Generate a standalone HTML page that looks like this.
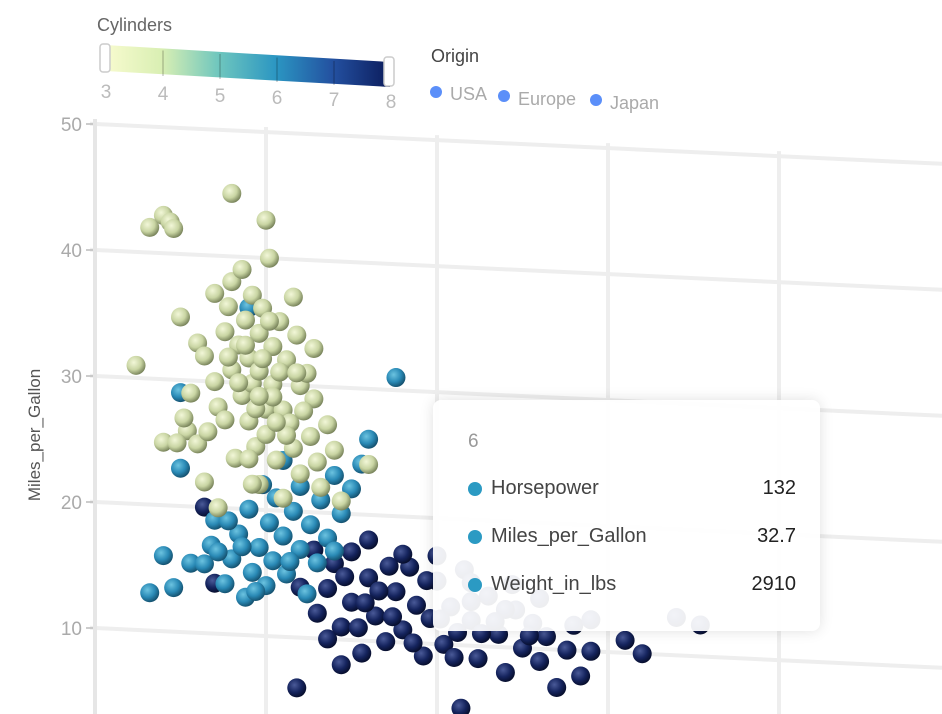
<!DOCTYPE html>
<html><head><meta charset="utf-8"><style>
body{margin:0;background:#fff;font-family:"Liberation Sans",sans-serif}
#wrap{position:relative;width:942px;height:714px;overflow:hidden}
#tip{position:absolute;left:433px;top:400px;width:387px;height:231px;background:rgba(255,255,255,0.93);border-radius:8px;box-shadow:0 0 14px rgba(0,0,0,0.12);color:#444;font-size:20px}
.row{position:absolute;left:35px;right:24px;height:24px}
.row .d{position:absolute;left:0;top:5px;width:14px;height:14px;border-radius:50%;background:#2b9ac3}
.row .l{position:absolute;left:23px;top:0}
.row .v{position:absolute;right:0;top:0;color:#222}
</style></head><body>
<div id="wrap">
<svg id="svg" width="942" height="714">
 <defs id="defs">
  <linearGradient id="vm" x1="0" x2="1"><stop offset="0" stop-color="#f8fbcf"/><stop offset="0.2" stop-color="#d9efb3"/><stop offset="0.4" stop-color="#6ec6be"/><stop offset="0.6" stop-color="#2b96c2"/><stop offset="0.8" stop-color="#2350a0"/><stop offset="1" stop-color="#0c1c5c"/></linearGradient>
 </defs>
 <g id="grid"></g>
 <g id="pts"></g>
 <g id="vmap">
  <text x="97" y="31" font-size="18" fill="#666">Cylinders</text>
  <polygon points="105,45 390,62 390,87 105,71" fill="url(#vm)"/>
  <rect x="100" y="44" width="10" height="28" rx="3" fill="#fff" stroke="#ccc" stroke-width="1.5"/>
  <rect x="384" y="57" width="10" height="29" rx="3" fill="#fff" stroke="#ccc" stroke-width="1.5"/>
  <g id="vmlabels" font-size="19" fill="#bbb"></g>
 </g>
 <g>
  <text x="431" y="62" font-size="18" fill="#444">Origin</text>
  <circle cx="436" cy="92" r="6" fill="#5b8ff9"/>
  <text x="450" y="100" font-size="18" fill="#aaa">USA</text>
  <circle cx="504" cy="96" r="6" fill="#5b8ff9"/>
  <text x="518" y="105" font-size="18" fill="#aaa">Europe</text>
  <circle cx="596" cy="100" r="6" fill="#5b8ff9"/>
  <text x="610" y="109" font-size="18" fill="#aaa">Japan</text>
 </g>
 <text transform="translate(40,435) rotate(-90)" text-anchor="middle" font-size="17" fill="#555">Miles_per_Gallon</text>
 <g id="yticks" font-size="19" fill="#aaa" text-anchor="end"></g>
</svg>
<div id="tip">
 <div style="position:absolute;left:35px;top:31px;color:#999;font-size:19px">6</div>
 <div class="row" style="top:77px"><span class="d"></span><span class="l">Horsepower</span><span class="v">132</span></div>
 <div class="row" style="top:125px"><span class="d"></span><span class="l">Miles_per_Gallon</span><span class="v">32.7</span></div>
 <div class="row" style="top:173px"><span class="d"></span><span class="l">Weight_in_lbs</span><span class="v">2910</span></div>
</div>
</div>
<script>
const yTicks=[10,20,30,40,50];
const xTicks=[40,90,140,190,240];
const cylLabels=[3,4,5,6,7,8];
const cyl4=[[52,31],[56,42],[60,43],[62,42.5],[63,42],[65,35],[67,26],[68,29],[70,33],[70,25],[72,32],[72,22],[75,37],[75,30],[76,28],[78,34],[78,27],[79,36],[80,45],[80,38],[80,31],[81,24],[82,33],[83,39],[83,29],[84,35],[85,32],[85,27],[86,37],[86,30],[87,25],[88,34],[88,31],[88,22],[89,36],[90,43],[90,28],[90,26],[91,40],[92,33],[92,30],[93,24],[94,35],[95,28],[95,21],[96,32],[97,27],[98,25],[99,34],[100,30],[100,23],[102,31],[103,26],[104,29],[105,24],[106,22],[108,27],[110,25],[112,21],[98,37],[94,31],[92,29],[86,22],[76,20],[120,24],[84,33],[87,28],[91,35],[96,26],[101,28],[89,32],[82,30],[60,25],[64,25],[66,27],[73,26],[88,29],[93,27],[99,31],[104,33],[85,24],[79,32]];
const cyl6=[[56,13],[60,16],[63,13.5],[65,23],[68,15.5],[72,15.5],[74,17],[75,19],[78,14],[80,16],[82,18],[84,13],[85,20],[86,15],[88,17],[89,22],[90,14],[91,19],[92,16],[93,21],[95,18],[96,15],[98,20],[100,17],[102,13.5],[103,19],[105,16],[106,21],[108,18],[110,23],[112,20],[115,22],[118,24],[120,26],[110,17],[100,22],[95,24],[85,36],[65,29],[128,31],[76,16.5],[83,17],[79,19],[87,13.5],[97,16]];
const cyl8=[[72,20],[75,14],[100,14],[105,12],[108,10],[110,16],[112,11],[115,13],[118,9],[120,15],[122,12],[125,10],[128,14],[130,11],[132,16],[134,13],[136,9],[138,12],[140,15],[142,10],[144,13],[146,11],[148,16],[150,12],[152,9],[155,14],[158,11],[160,8],[163,13],[165,10],[168,12],[170,9],[172,11],[175,7],[178,10],[182,8],[185,10],[120,18],[115,17],[130,17],[140,17],[150,15],[162,15],[112,8],[108,14],[104,17],[147,5],[170,14],[180,12],[195,11],[217,12.5],[200,10],[99,6],[150,13.5],[160,13],[185,12.5],[210,13],[117,11],[123,14],[127,12],[133,10],[137,15],[141,12],[145,9],[153,11],[157,12],[167,11],[126,16],[113,15],[119,13]];
const NS='http://www.w3.org/2000/svg';
const slope=0.047;
function xS(h){return 95+(h-40)*171/50;}
function yS(m,px){return 628-(m-10)*12.6+(px-95)*slope;}
const svg=document.getElementById('svg');
const grid=document.getElementById('grid');
function mk(t,a,p){const e=document.createElementNS(NS,t);for(const k in a)e.setAttribute(k,a[k]);p.appendChild(e);return e;}
yTicks.forEach(v=>{
 const l=mk('line',{x1:90,x2:942,y1:yS(v,90),y2:yS(v,942),stroke:'#eeeeee','stroke-width':4},grid);
 
 
 const t=mk('text',{x:82,y:yS(v,95)+7},document.getElementById('yticks'));
 t.textContent=v;
 
 
 mk('line',{x1:86,x2:94,y1:yS(v,95),y2:yS(v,95),stroke:'#bbb','stroke-width':1.5},grid);
});
xTicks.forEach(v=>{
 const l=mk('line',{x1:xS(v),x2:xS(v),y1:yS(50,xS(v))-5,y2:714,stroke:v===40?'#e6e6e6':'#eeeeee','stroke-width':4},grid);
 
 
});
const vmap=document.getElementById('vmap');
cylLabels.forEach((c,i)=>{
 const t=mk('text',{x:106+i*57,y:98+i*2,'text-anchor':'middle'},document.getElementById('vmlabels'));
 t.textContent=c;
 
 
 if(i>0&&i<5){mk('line',{x1:106+i*57,x2:106+i*57,y1:47+i*3.5,y2:73+i*3,stroke:'rgba(0,0,0,0.3)','stroke-width':1},vmap);}
});
const defs=document.getElementById('defs');
const cols={4:['#f2f7d8','#c9d5a3','#6f7a52'],6:['#6cc3e0','#2a8ab6','#124a66'],8:['#4a5a98','#15245e','#050b26']};
for(const c in cols){
 const g=mk('radialGradient',{id:'g'+c,cx:'0.38',cy:'0.35',r:'0.7'},defs);
 mk('stop',{offset:'0','stop-color':cols[c][0]},g);
 mk('stop',{offset:'0.55','stop-color':cols[c][1]},g);
 mk('stop',{offset:'1','stop-color':cols[c][2]},g);
}
const pts=document.getElementById('pts');
function draw(arr,c){arr.forEach(d=>{
 const px=xS(d[0]);
 const e=mk('circle',{cx:px,cy:yS(d[1],px),r:9.5,fill:'url(#g'+c+')'},pts);
 
 
});}
draw(cyl8,8);draw(cyl6,6);draw(cyl4,4);
</script>
</body></html>
